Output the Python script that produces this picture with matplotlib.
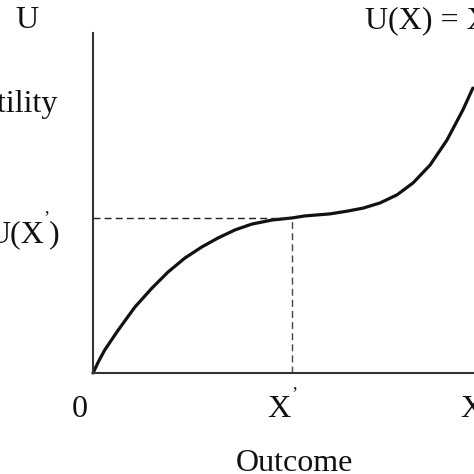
import matplotlib
matplotlib.use("Agg")
import matplotlib.pyplot as plt

# ======================================================
# Courbe d'utilité (concave puis convexe)
# ======================================================

outcome = [0, 1.5, 3.1, 6.6, 11.0, 15.5, 19.7, 24.1, 28.6, 32.8, 37.3, 41.7, 47.0,
           52.2, 55.6, 62.2, 66.7, 70.9, 75.3, 79.8, 84.0, 88.5, 92.9, 97.1, 99.7]
utility = [0, 3.5, 6.8, 12.6, 19.4, 25.0, 29.7, 33.8, 37.1, 39.7, 42.1, 43.8, 45.0,
           45.6, 46.2, 46.8, 47.6, 48.5, 50.0, 52.4, 55.9, 61.2, 68.5, 77.4, 83.8]

x_ref = 52.2     # X'
u_ref = 45.6     # U(X')

plt.rcParams["font.family"] = ["Liberation Serif", "DejaVu Serif"]
W = H = 474
fig = plt.figure(figsize=(4.74, 4.74), dpi=100)
ax = fig.add_axes([93 / W, (H - 373) / H, (W - 93) / W, (373 - 33) / H])
ax.set_xlim(0, 100)
ax.set_ylim(0, 100)

ax.plot(outcome, utility, color="#111111", lw=2.3, solid_capstyle="round",
        solid_joinstyle="round", clip_on=False)
ax.plot([0, x_ref], [u_ref, u_ref], color="#222222", lw=1.0, ls=(0, (5, 3)))
ax.plot([x_ref, x_ref], [0, u_ref], color="#444444", lw=1.0, ls=(0, (5, 3)))

for s in ["top", "right"]:
    ax.spines[s].set_visible(False)
for s in ["left", "bottom"]:
    ax.spines[s].set_color("#333333")
    ax.spines[s].set_linewidth(1.5)
ax.set_xticks([])
ax.set_yticks([])


def txt(px, py, s, ha="center", size=23):
    fig.text(px / W, 1 - py / H, s, ha=ha, va="baseline", fontsize=size, color="#111111")


txt(27, 28, "U")
txt(365, 28, "U(X) = X", ha="left")
txt(58, 112, "Utility", ha="right")
# U(X') avec petite apostrophe en exposant
txt(44, 242, "U(X", ha="right")
txt(43, 223, "\u2019", ha="left", size=13)
txt(49, 242, ")", ha="left")
txt(80, 417, "0")
txt(279, 417, "X")
txt(294, 399, "\u2019", size=13)
txt(472, 417, "X")
txt(294, 471, "Outcome")

fig.savefig("out.png", dpi=100)
